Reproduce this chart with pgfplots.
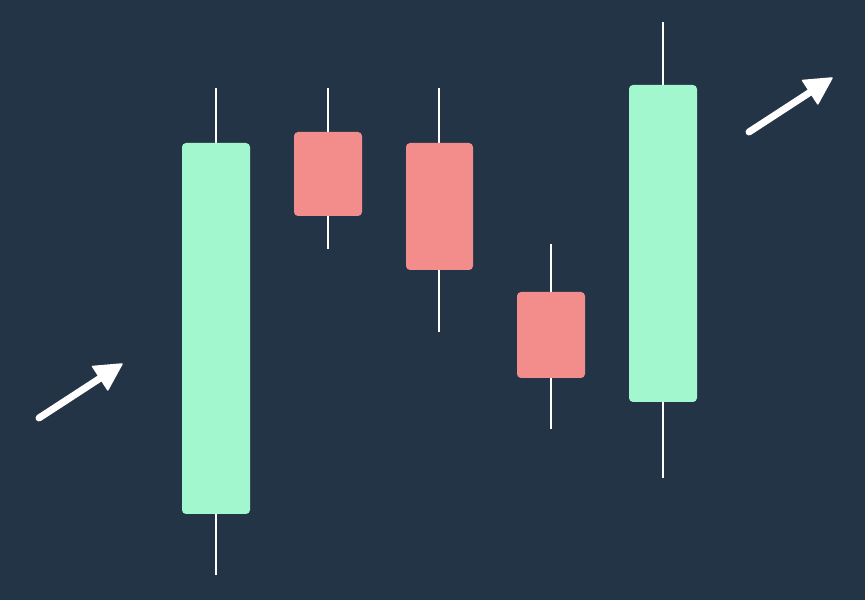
\documentclass[border=0pt]{standalone}
\usepackage{pgfplots}
\pgfplotsset{compat=1.18}
\definecolor{bg}{HTML}{243447}
\definecolor{bull}{HTML}{A3F7CF}
\definecolor{bear}{HTML}{F28D8B}
\begin{document}
\begin{tikzpicture}
\begin{axis}[
  width=865bp, height=600bp, scale only axis,
  xmin=0, xmax=865, ymin=0, ymax=600,
  hide axis,
]
% background
\addplot[fill=bg, draw=none] coordinates {(0,0) (865,0) (865,600) (0,600)} --cycle;
% wicks
\addplot[white, line width=2bp] coordinates {(216,25) (216,512)};
\addplot[white, line width=2bp] coordinates {(328,351) (328,512)};
\addplot[white, line width=2bp] coordinates {(439,268) (439,512)};
\addplot[white, line width=2bp] coordinates {(551,171) (551,356)};
\addplot[white, line width=2bp] coordinates {(663,122) (663,578)};
% bodies
\addplot[fill=bull, draw=none, rounded corners=4bp] coordinates {(182,86) (250,86) (250,457) (182,457)} --cycle;
\addplot[fill=bear, draw=none, rounded corners=4bp] coordinates {(294,384) (362,384) (362,468) (294,468)} --cycle;
\addplot[fill=bear, draw=none, rounded corners=4bp] coordinates {(406,330) (473,330) (473,457) (406,457)} --cycle;
\addplot[fill=bear, draw=none, rounded corners=4bp] coordinates {(517,222) (585,222) (585,308) (517,308)} --cycle;
\addplot[fill=bull, draw=none, rounded corners=4bp] coordinates {(629,198) (697,198) (697,515) (629,515)} --cycle;
% arrows: shafts
\addplot[white, line width=7bp, line cap=round] coordinates {(39,182) (102,223)};
\addplot[white, line width=7bp, line cap=round] coordinates {(749,468) (812,509)};
% arrows: heads
\addplot[fill=white, draw=white, line width=1.5bp, line join=round] coordinates {(122,236) (92.6,233.5) (107.8,210.1)} --cycle;
\addplot[fill=white, draw=white, line width=1.5bp, line join=round] coordinates {(832,522) (802.6,519.5) (817.8,496.1)} --cycle;
\end{axis}
\end{tikzpicture}
\end{document}
